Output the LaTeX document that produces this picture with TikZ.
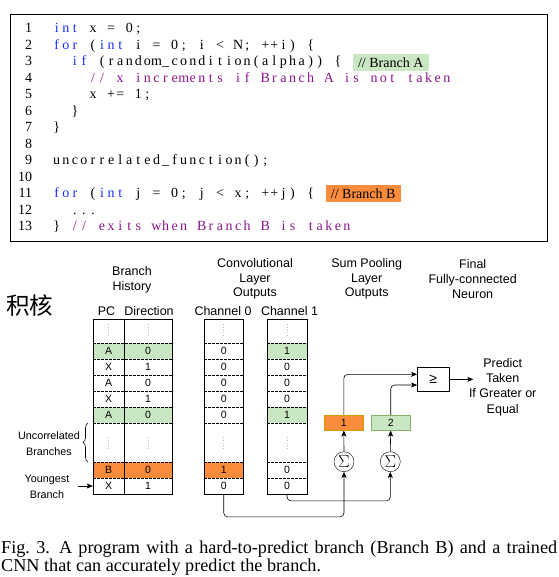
\documentclass[tikz,border=0pt]{standalone}
\usepackage{fontspec}
\setmainfont{Liberation Serif}
\setsansfont{Liberation Sans}
\newfontfamily\cjk{Noto Sans CJK SC}
\usetikzlibrary{calc}
\usetikzlibrary{arrows.meta}
\usetikzlibrary{decorations.pathreplacing}
\definecolor{mygreen}{RGB}{201,231,194}
\definecolor{myorange}{RGB}{250,140,60}
\definecolor{greenline}{RGB}{130,179,102}
\definecolor{orangeline}{RGB}{215,155,0}
\definecolor{kwblue}{RGB}{25,45,255}
\definecolor{cmpurple}{RGB}{140,20,140}
\def\LineSkip{16.47}
\def\CodeX{52}
\def\Col{9.07}
\def\RowH{16}
% 等宽列: 每个字符占一列
\def\monoend{\monoend}
\def\monoloop#1{\ifx#1\monoend\else\makebox[\Col pt]{#1}\expandafter\monoloop\fi}
\newcommand\mono[1]{\monoloop#1\monoend}
\newcommand\kwm[1]{{\color{kwblue}\mono{#1}}}
\newcommand\cmm[1]{{\color{cmpurple}\mono{#1}}}
\tikzset{
  headtext/.style={font=\sffamily\fontsize{12.5}{14.7}\selectfont, align=center, inner sep=0pt},
  sidetext/.style={font=\sffamily\fontsize{10.8}{16}\selectfont, align=center, inner sep=0pt},
  cell/.style={minimum height=\RowH, inner sep=0pt, font=\sffamily\fontsize{10.5}{12}\selectfont},
  sep/.style={dash pattern=on 2.5pt off 1.5pt, line width=0.6pt},
  vdots/.style={gray!50, dotted, line width=0.8pt},
  sumnode/.style={circle, draw, minimum size=20, inner sep=0pt, font=\fontsize{16}{17}\selectfont},
  poolbox/.style={draw, minimum width=39, minimum height=15.3, inner sep=0pt, font=\sffamily\fontsize{10.5}{12}\selectfont},
  flow/.style={-{Stealth[length=6pt, width=5pt, inset=1.5pt]}, rounded corners=4pt, line width=0.6pt}
}

\begin{document}
\begin{tikzpicture}[x=1pt, y=-1pt]
  \useasboundingbox (0,0) rectangle (558,577);

  % 代码框
  \draw[line width=0.8pt] (10.7,14) rectangle (547.7,241.7);

  \foreach \i in {1,...,13}
    \node[anchor=base east, inner sep=0pt, font=\rmfamily\fontsize{14}{16}\selectfont] (ln\i) at (32.3, {32.9+(\i-1)*\LineSkip}) {\i};

  % 注释高亮
  \node[fill=mygreen, inner sep=0pt, minimum width=75.6, minimum height=16.7, anchor=west,
        font=\rmfamily\fontsize{14}{16}\selectfont] (brA) at (352.7, 62.7) {// Branch A};
  \node[fill=myorange, inner sep=0pt, minimum width=75, minimum height=16.7, anchor=west,
        font=\rmfamily\fontsize{14}{16}\selectfont] (brB) at (325.5, 193.5) {// Branch B};

  \foreach \i/\ind/\txt in {
      1/0/{\kwm{int}\mono{~x~=~0;}},
      2/0/{\kwm{for}\mono{~(}\kwm{int}\mono{~i~=~0;~i~<~N;~++i)~\{}},
      3/2/{\kwm{if}\mono{~(random\_condition(alpha))~\{}},
      4/4/{\cmm{//~x~increments~if~Branch~A~is~not~taken}},
      5/4/{\mono{x~+=~1;}},
      6/2/{\mono{\}}},
      7/0/{\mono{\}}},
      9/0/{\mono{uncorrelated\_function();}},
      11/0/{\kwm{for}\mono{~(}\kwm{int}\mono{~j~=~0;~j~<~x;~++j)~\{}},
      12/2/{\mono{...}},
      13/0/{\mono{\}~}\cmm{//~exits~when~Branch~B~is~taken}}}
    \node[anchor=base west, inner sep=0pt, font=\rmfamily\fontsize{14}{16}\selectfont] (code\i)
      at ({\CodeX+\ind*\Col}, {32.9+(\i-1)*\LineSkip}) {\txt};

  % 标题
  \node[anchor=west, inner sep=0pt, font=\cjk\fontsize{23.5}{26}\selectfont] (kern) at (6,306) {积核};
  \node[headtext] (bh) at (132,279.5) {Branch\\History};
  \node[headtext] (conv) at (255,279) {Convolutional\\Layer\\Outputs};
  \node[headtext] (pool) at (366.7,279) {Sum Pooling\\Layer\\Outputs};
  \node[headtext] (fc) at (472.7,279) {Final\\Fully-connected\\Neuron};
  \node[headtext] (pch) at (106.5,311) {PC};
  \node[headtext] (dirh) at (149,311) {Direction};
  \node[headtext] (ch0) at (223,311) {Channel 0};
  \node[headtext] (ch1) at (289.5,311) {Channel 1};

  % 分支历史与卷积输出
  \foreach \r/\y/\pc/\d/\c/\za/\ca/\zb/\cb in {
      1/351/A/0/mygreen/0/white/1/mygreen,
      2/367/X/1/white/0/white/0/white,
      3/383/A/0/white/0/white/0/white,
      4/399/X/1/white/0/white/0/white,
      5/415/A/0/mygreen/0/white/1/mygreen,
      6/470/B/0/myorange/1/myorange/0/white,
      7/486/X/1/white/0/white/0/white} {
    \node[cell, fill=\c, minimum width=31] (pc\r) at (108.5,\y) {\pc};
    \node[cell, fill=\c, minimum width=48] (dir\r) at (148,\y) {\d};
    \node[cell, fill=\ca, minimum width=39.5] (c0r\r) at (223.75,\y) {\za};
    \node[cell, fill=\cb, minimum width=40] (c1r\r) at (287,\y) {\zb};
  }

  \foreach \y in {343,359,375,391,407,423,462,478} {
    \draw[sep] (93,\y) -- (172,\y);
    \draw[sep] (204,\y) -- (243.5,\y);
    \draw[sep] (267,\y) -- (307,\y);
  }
  \foreach \x in {108.5,148,223.75,287} {
    \draw[vdots] (\x,324) -- (\x,336);
    \draw[vdots] (\x,437) -- (\x,451);
  }

  \draw[line width=0.7pt] (93,319) rectangle (172,494);
  \draw[line width=0.7pt] (124,319) -- (124,494);
  \draw[line width=0.7pt] (204,319) rectangle (243.5,494);
  \draw[line width=0.7pt] (267,319) rectangle (307,494);

  % 左侧说明
  \draw[decorate, decoration={brace, amplitude=5pt}, line width=0.6pt] (88,462) -- (88,423);
  \node[sidetext] (unc) at (49,444) {Uncorrelated\\Branches};
  \node[sidetext] (yb) at (47,487) {Youngest\\Branch};
  \coordinate (ybend) at (78,486);
  \draw[flow] (ybend) -- (pc7.west);

  % 求和池化与比较
  \node[sumnode] (s0) at (344,461.7) {$\Sigma$};
  \node[sumnode] (s1) at (390.3,461.7) {$\Sigma$};
  \node[poolbox, fill=myorange, draw=orangeline] (p0) at (343.8,422.7) {1};
  \node[poolbox, fill=mygreen, draw=greenline] (p1) at (390.7,422.7) {2};
  \node[draw, minimum width=32, minimum height=24, inner sep=0pt,
        font=\sffamily\fontsize{14}{16}\selectfont] (cmp) at (433.3,379.3) {≥};
  \coordinate (out) at (473.3,379.3);
  \node[headtext, font=\sffamily\fontsize{12.5}{15.3}\selectfont] (pred) at (502.7,387) {Predict\\Taken\\If Greater or\\Equal};

  \draw[flow] (c0r7.south) -- ++(0,22.7) -| (s0.south);
  \draw[flow] (c1r7.south) -- ++(0,6.7) -| (s1.south);
  \draw[flow] (s0.north) -- (p0.south);
  \draw[flow] (s1.north) -- (p1.south);
  \draw[flow] (p0.north) |- ($(cmp.west)+(0,-5)$);
  \draw[flow] (p1.north) |- ($(cmp.west)+(0,5.7)$);
  \draw[flow] (cmp.east) -- (out);

  % 图注
  \node[anchor=base west, text width=556, inner sep=0pt, align=justify,
        font=\rmfamily\fontsize{18.2}{18}\selectfont] (cap) at (1,553)
    {Fig.~3.\enspace A program with a hard-to-predict branch (Branch B) and a trained\linebreak CNN that can accurately predict the branch.};
\end{tikzpicture}
\end{document}
